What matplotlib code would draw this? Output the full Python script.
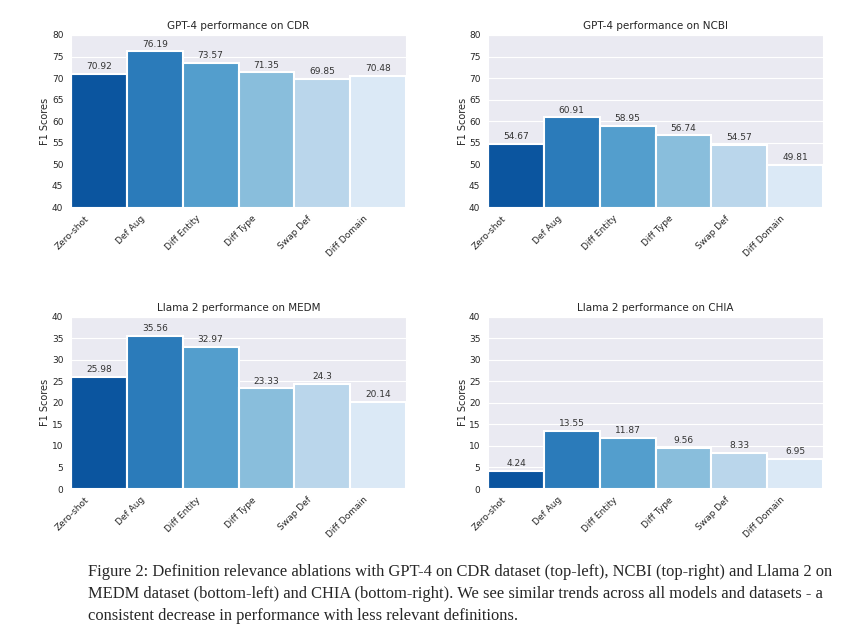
import matplotlib
matplotlib.use("Agg")
import matplotlib.pyplot as plt
import seaborn as sns

# ablation settings (same order in every panel)
settings = ["Zero-shot", "Def Aug", "Diff Entity", "Diff Type", "Swap Def", "Diff Domain"]

# F1 scores
cdr_gpt4 = [70.92, 76.19, 73.57, 71.35, 69.85, 70.48]
ncbi_gpt4 = [54.67, 60.91, 58.95, 56.74, 54.57, 49.81]
medm_llama = [25.98, 35.56, 32.97, 23.33, 24.3, 20.14]
chia_llama = [4.24, 13.55, 11.87, 9.56, 8.33, 6.95]

titles = ["GPT-4 performance on CDR", "GPT-4 performance on NCBI",
          "Llama 2 performance on MEDM", "Llama 2 performance on CHIA"]
ylims = [(40, 80), (40, 80), (0, 40), (0, 40)]

caption = ("Figure 2: Definition relevance ablations with GPT-4 on CDR dataset (top-left), NCBI (top-right) and Llama 2 on\n"
           "MEDM dataset (bottom-left) and CHIA (bottom-right). We see similar trends across all models and datasets - a\n"
           "consistent decrease in performance with less relevant definitions.")

sns.set_style("darkgrid")
colors = sns.color_palette("Blues_r", len(settings))

fig, axes = plt.subplots(2, 2, figsize=(8.63, 6.34), dpi=100)
plt.subplots_adjust(left=0.0823, right=0.9537, top=0.9448, bottom=0.2287,
                    wspace=0.245, hspace=0.632)

all_scores = [cdr_gpt4, ncbi_gpt4, medm_llama, chia_llama]
for ax, scores, title, ylim in zip(axes.flat, all_scores, titles, ylims):
    x = list(range(len(settings)))
    bars = ax.bar(x, scores, width=1.0, color=colors, edgecolor="white", linewidth=1.5)
    ax.bar_label(bars, padding=2, fontsize=6.5, color="0.2")
    ax.set_xlim(-0.5, len(settings) - 0.5)
    ax.set_ylim(*ylim)
    ax.set_yticks(range(ylim[0], ylim[1] + 1, 5))
    # rotated labels end a bit left of the bar centre in the original
    ax.set_xticks([i - 0.15 for i in x])
    ax.set_xticklabels(settings, rotation=45, ha="right", fontsize=6.5)
    ax.tick_params(axis="y", labelsize=6.5, pad=2)
    ax.tick_params(axis="x", pad=1)
    ax.grid(axis="x", visible=False)
    ax.set_ylabel("F1 Scores", fontsize=7, labelpad=1)
    ax.set_title(title, fontsize=7.5, pad=4)

fig.text(0.102, 0.0625, caption, fontsize=11.9, family="Liberation Serif",
         ha="left", va="center", linespacing=1.5)

plt.savefig("out.png", dpi=100)
